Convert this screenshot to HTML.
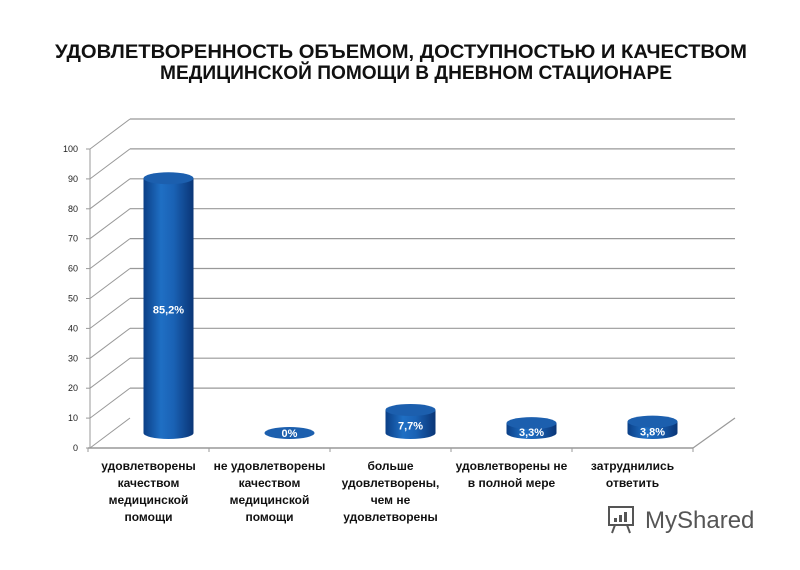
<!DOCTYPE html>
<html><head><meta charset="utf-8">
<style>
body{margin:0;background:#fff;width:800px;height:565px;overflow:hidden;font-family:"Liberation Sans","Noto Sans CJK SC",sans-serif}
</style></head>
<body>
<svg id="chart" width="800" height="565" viewBox="0 0 800 565" xmlns="http://www.w3.org/2000/svg">
<defs>
<linearGradient id="cyl" x1="0" x2="1" y1="0" y2="0">
<stop offset="0" stop-color="#0b3f86"/><stop offset="0.35" stop-color="#1f6fc4"/><stop offset="0.6" stop-color="#1a62b5"/><stop offset="1" stop-color="#0a3576"/>
</linearGradient>
</defs>
<text x="55" y="58" textLength="692" lengthAdjust="spacingAndGlyphs" font-size="19" font-weight="bold" fill="#111">УДОВЛЕТВОРЕННОСТЬ ОБЪЕМОМ, ДОСТУПНОСТЬЮ И КАЧЕСТВОМ</text>
<text x="160" y="79" textLength="512" lengthAdjust="spacingAndGlyphs" font-size="19" font-weight="bold" fill="#111">МЕДИЦИНСКОЙ ПОМОЩИ В ДНЕВНОМ СТАЦИОНАРЕ</text>
<g id="grid"></g>
<g id="bars"></g>
<g id="labels"></g>
<g>
<rect x="609" y="507" width="24" height="18" fill="none" stroke="#555" stroke-width="2"/>
<rect x="614" y="518" width="3" height="4" fill="#555"/><rect x="619" y="515" width="3" height="7" fill="#555"/><rect x="624" y="512" width="3" height="10" fill="#555"/>
<line x1="615" y1="525" x2="612" y2="533" stroke="#555" stroke-width="2"/><line x1="627" y1="525" x2="630" y2="533" stroke="#555" stroke-width="2"/>
<text x="645" y="528" font-size="24" fill="#555">MyShared</text>
</g>
</svg>
<script>
const categories=[["удовлетворены","качеством","медицинской","помощи"],["не удовлетворены","качеством","медицинской","помощи"],["больше","удовлетворены,","чем не","удовлетворены"],["удовлетворены не","в полной мере"],["затруднились","ответить"]];
const values=[85.2,0,7.7,3.3,3.8];
const valueLabels=["85,2%","0%","7,7%","3,3%","3,8%"];
const yTicks=[0,10,20,30,40,50,60,70,80,90,100];
const NS="http://www.w3.org/2000/svg";
const X0=88,CW=121,Y0=448,SC=2.99,DX=40,DY=-30;
function y(v){return Y0-v*SC;}
function xc(i){return X0+CW*i+CW/2;}
function mk(t,a,p){const e=document.createElementNS(NS,t);for(const k in a)e.setAttribute(k,a[k]);p.appendChild(e);return e;}
const grid=document.getElementById('grid'),bars=document.getElementById('bars'),labels=document.getElementById('labels');
const xEnd=X0+CW*categories.length;
yTicks.forEach(t=>{
 const g=mk('g',{},grid);
 
 
 mk('line',{x1:X0+2,y1:y(t),x2:X0+2+DX,y2:y(t)+DY,stroke:'#999','stroke-width':1},g);
 if(t>0) mk('line',{x1:X0+2+DX,y1:y(t)+DY,x2:xEnd+DX+2,y2:y(t)+DY,stroke:'#999','stroke-width':1.2},g);
 mk('line',{x1:X0-2,y1:y(t),x2:X0+2,y2:y(t),stroke:'#999'},g);
 const tx=mk('text',{x:X0-10,y:y(t)+3,'text-anchor':'end','font-size':9,fill:'#222'},g);tx.textContent=t;
 
 
});
mk('line',{x1:X0,y1:Y0,x2:xEnd,y2:Y0,stroke:'#999','stroke-width':1.5},grid);
mk('line',{x1:xEnd,y1:Y0,x2:xEnd+DX+2,y2:Y0+DY,stroke:'#999','stroke-width':1.2},grid);
mk('line',{x1:X0+2,y1:y(0),x2:X0+2,y2:y(100),stroke:'#999'},grid);
for(let i=0;i<=categories.length;i++)mk('line',{x1:X0+CW*i,y1:Y0,x2:X0+CW*i,y2:Y0+4,stroke:'#999'},grid);
values.forEach((v,i)=>{
 const cx=xc(i)+DX/2,w=50,ry=6,base=y(0)+DY/2,top=base-v*SC;
 const g=mk('g',{},bars);
 
 
 if(v>0){
  mk('path',{d:`M${cx-w/2},${top} L${cx-w/2},${base} A${w/2},${ry} 0 0 0 ${cx+w/2},${base} L${cx+w/2},${top} Z`,fill:'url(#cyl)'},g);
 }
 mk('ellipse',{cx:cx,cy:top,rx:w/2,ry:ry,fill:'#1c5fae'},g);
 const ly=v>0?(top+base)/2+8:top+4;
 const t=mk('text',{x:cx,y:ly,'text-anchor':'middle','font-size':11,'font-weight':'bold',fill:'#fff'},g);t.textContent=valueLabels[i];
 
 
});
categories.forEach((lines,i)=>{
 const t=mk('text',{x:xc(i),y:470,'text-anchor':'middle','font-size':12,'font-weight':'bold',fill:'#111'},labels);
 
 
 lines.forEach((l,j)=>{const s=mk('tspan',{x:xc(i),dy:j?17:0},t);s.textContent=l;});
});
</script>
</body></html>
